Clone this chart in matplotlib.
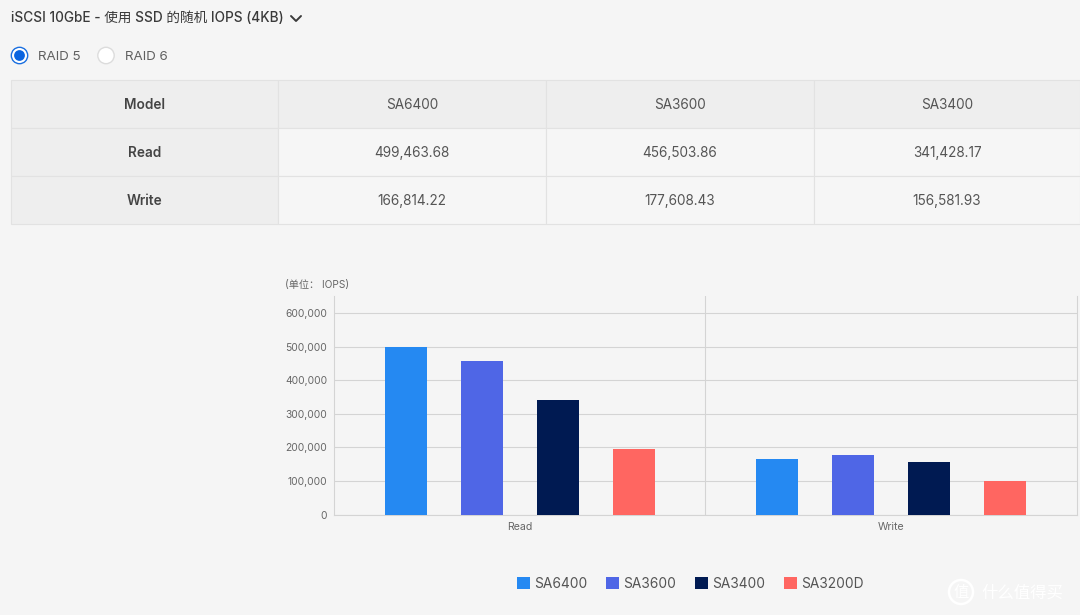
import matplotlib
matplotlib.use("Agg")
import matplotlib.pyplot as plt
from matplotlib.patches import Circle, Rectangle, Patch
from matplotlib.ticker import FuncFormatter, MultipleLocator

categories = ["Read", "Write"]
models = ["SA6400", "SA3600", "SA3400", "SA3200D"]
read_vals = [499463.68, 456503.86, 341428.17, 195000]
write_vals = [166814.22, 177608.43, 156581.93, 100000]
colors = ["#2589F2", "#4F66E6", "#001A52", "#FF6661"]
title = "iSCSI 10GbE - 使用 SSD 的随机 IOPS (4KB)"
radio_labels = ["RAID 5", "RAID 6"]
unit_label = "(单位： IOPS)"

FONT = ["Inter", "Noto Sans CJK SC", "DejaVu Sans"]
plt.rcParams["font.family"] = FONT
BG = "#F5F5F5"

fig = plt.figure(figsize=(10.8, 6.15), dpi=100, facecolor=BG)

# page overlay in pixel coordinates
pg = fig.add_axes([0, 0, 1, 1], zorder=0)
pg.set_xlim(0, 1080)
pg.set_ylim(615, 0)
pg.axis("off")

pg.text(11, 18.5, title, fontsize=9.8, fontweight="medium", color="#3A3A3A", va="center", ha="left")
pg.plot([291, 296, 301], [16, 21, 16], color="#3A3A3A", lw=1.4, solid_capstyle="round")

pg.add_patch(Circle((19.5, 55.5), 8.2, fc="white", ec="#1A6FE0", lw=1.0))
pg.add_patch(Circle((19.5, 55.5), 5.4, fc="#0A64E0", ec="none"))
pg.text(38, 57, radio_labels[0], fontsize=9.6, color="#606060", va="center")
pg.add_patch(Circle((106, 55.5), 8.2, fc="white", ec="#DCDCDC", lw=1.0))
pg.text(125, 57, radio_labels[1], fontsize=9.6, color="#606060", va="center")

# table
col_edges = [11, 278, 546, 814, 1080]
row_edges = [79.5, 127.5, 175.5, 223.5]
table_models = models[:3]
rows = [["Model"] + table_models,
        ["Read"] + [f"{v:,.2f}" for v in read_vals[:3]],
        ["Write"] + [f"{v:,.2f}" for v in write_vals[:3]]]
for r, row in enumerate(rows):
    for c, cell in enumerate(row):
        x0, x1 = col_edges[c], col_edges[c + 1]
        y0, y1 = row_edges[r], row_edges[r + 1]
        head = r == 0 or c == 0
        pg.add_patch(Rectangle((x0, y0), x1 - x0, y1 - y0,
                               fc="#EEEEEE" if head else "#F6F6F6",
                               ec="#E2E2E2", lw=0.8))
        pg.text((x0 + x1) / 2, (y0 + y1) / 2 + 1.6, cell, fontsize=9.8,
                ha="center", va="center", color="#444444" if c == 0 else "#555555",
                fontweight="semibold" if c == 0 else "normal")

pg.text(285, 285, unit_label, fontsize=7.3, color="#666666", va="center")

# watermark
pg.add_patch(Circle((961, 592), 12, fc="none", ec="white", lw=1.8))
pg.text(961, 592, "值", fontsize=11, color="white", ha="center", va="center")
pg.text(981, 593, "什么值得买", fontsize=11.8, color="white", ha="left", va="center")

# chart
ax = fig.add_axes([334 / 1080, (615 - 514.6) / 615, (1076.5 - 334) / 1080, (514.6 - 296) / 615], zorder=1)
ax.patch.set_alpha(0)
step = 0.2046
w = 0.113
for i, (m, col) in enumerate(zip(models, colors)):
    off = (i - 1.5) * step
    ax.bar([0 + off, 1 + off], [read_vals[i], write_vals[i]], width=w, color=col, label=m, zorder=3)
ax.set_xlim(-0.5, 1.5)
ax.set_ylim(0, 650500)
ax.yaxis.set_major_locator(MultipleLocator(100000))
ax.yaxis.set_major_formatter(FuncFormatter(lambda v, _: f"{int(v):,}"))
ax.set_xticks([0, 1])
ax.set_xticklabels(categories)
ax.axvline(0.4985, color="#D4D4D4", lw=0.8, zorder=1)
ax.grid(axis="y", color="#D4D4D4", lw=0.8, zorder=1)
ax.set_axisbelow(True)
ax.spines["top"].set_visible(False)
for s in ["left", "bottom", "right"]:
    ax.spines[s].set_color("#D4D4D4")
    ax.spines[s].set_linewidth(0.8)
ax.tick_params(axis="both", length=0)
ax.tick_params(axis="y", labelsize=7.4, labelcolor="#666666", pad=5)
ax.tick_params(axis="x", labelsize=7.6, labelcolor="#666666", pad=5.5)

handles = [Patch(fc=c, ec="none", label=m) for m, c in zip(models, colors)]
leg = fig.legend(handles=handles, loc="center", bbox_to_anchor=(690.5 / 1080, (615 - 583.5) / 615),
                 ncol=4, frameon=False, fontsize=9.9, handlelength=0.95, handleheight=0.95,
                 handletextpad=0.3, columnspacing=1.36, labelcolor="#555555")

fig.savefig("out.png", dpi=100, facecolor=BG)
